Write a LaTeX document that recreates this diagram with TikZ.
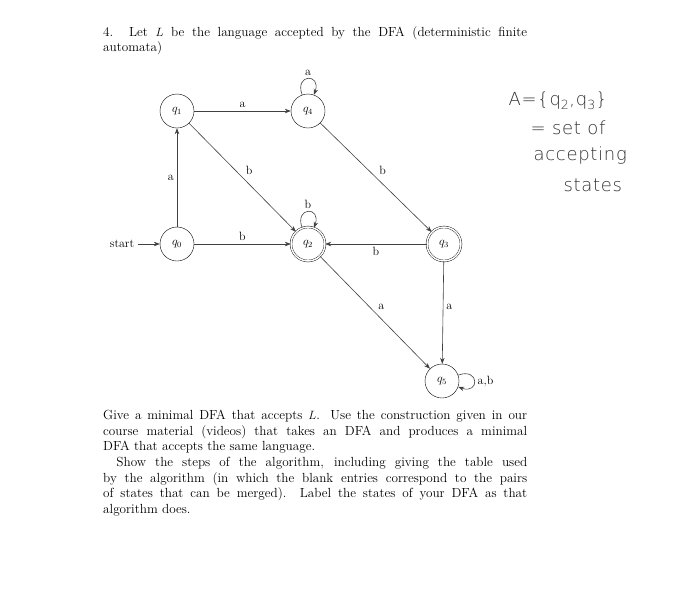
\documentclass[tikz,border=0pt]{standalone}
\usepackage{fontspec}
\newfontfamily\hand{DejaVu Sans ExtraLight}
\usetikzlibrary{arrows.meta}
\begin{document}
\begin{tikzpicture}[x=1pt,y=-1pt,
  st/.style={circle,draw,minimum size=34pt,inner sep=0pt,font=\fontsize{12}{14}\selectfont},
  acc/.style={st,double,double distance=1.5pt},
  tr/.style={draw,-{Stealth[length=6pt]},semithick,draw=black!75},
  lb/.style={font=\fontsize{12}{14}\selectfont,inner sep=3pt},
  txt/.style={anchor=north west,text width=424pt,align=justify,font=\fontsize{13.2}{15.6}\selectfont,inner sep=0pt},
  hw/.style={font=\hand\fontsize{18}{20}\selectfont\addfontfeature{LetterSpace=4},anchor=west,text=black!80}]
\useasboundingbox (0,0) rectangle (700,603);
\node[txt] (title) at (103,26)
{4. Let $L$ be the language accepted by the DFA (deterministic finite\linebreak automata)};
\node[st] (q1) at (177,111) {$q_1$};
\node[st] (q4) at (308,111) {$q_4$};
\node[st] (q0) at (177,244) {$q_0$};
\node[acc] (q2) at (308,244) {$q_2$};
\node[acc] (q3) at (444,244) {$q_3$};
\node[st] (q5) at (442,381) {$q_5$};
\node[font=\fontsize{12}{14}\selectfont] (start) at (122,244) {start};
\draw[tr] (start) -- (q0);
\draw[tr] (q0) -- node[lb,left] {a} (q1);
\draw[tr] (q0) -- node[lb,above] {b} (q2);
\draw[tr] (q1) -- node[lb,above] {a} (q4);
\draw[tr] (q1) -- node[lb,above right] {b} (q2);
\draw[tr] (q4) -- node[lb,above right] {b} (q3);
\draw[tr] (q3) -- node[lb,below] {b} (q2);
\draw[tr] (q2) -- node[lb,above right] {a} (q5);
\draw[tr] (q3) -- node[lb,right,pos=0.45] {a} (q5);
\draw[tr] (q4) to[out=110,in=70,looseness=5] node[lb,above] {a} (q4);
\draw[tr] (q2) to[out=110,in=70,looseness=5] node[lb,above] {b} (q2);
\draw[tr] (q5) to[out=20,in=-20,looseness=5] node[lb,right] {a,b} (q5);
\node[hw] (h1) at (505,101) {A=\{q\textsubscript{2},q\textsubscript{3}\}};
\node[hw] (h2) at (527,128) {= set of};
\node[hw] (h3) at (530,156) {accepting};
\node[hw] (h4) at (560,185) {states};
\node[txt] (para) at (103,410)
{Give a minimal DFA that accepts $L$. Use the construction given in our\linebreak course material (videos) that takes an DFA and produces a minimal\linebreak DFA that accepts the same language.\par
\hspace*{1em}Show the steps of the algorithm, including giving the table used\linebreak by the algorithm (in which the blank entries correspond to the pairs\linebreak of states that can be merged). Label the states of your DFA as that\linebreak algorithm does.};
\end{tikzpicture}
\end{document}
